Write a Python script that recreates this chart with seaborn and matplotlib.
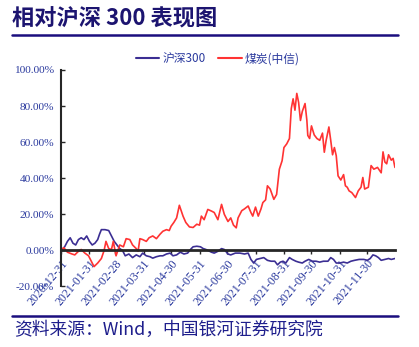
import pandas as pd
import seaborn as sns
import matplotlib.pyplot as plt
from matplotlib.lines import Line2D

# Days after 2020-12-31 and relative return (%)
base_date = "2020-12-31"
coal_days = [0, 3, 7, 12, 15, 19, 22, 26, 30, 33, 36, 40, 44, 47, 49, 52, 55, 57, 60, 64,
             68, 71, 75, 78, 82, 84, 86, 89, 93, 96, 100, 104, 108, 111, 115, 118, 120, 123,
             126, 129, 131, 133, 136, 140, 144, 148, 151, 153, 156, 160, 164, 167, 171, 175,
             178, 182, 185, 188, 191, 193, 197, 200, 204, 207, 209, 212, 215, 218, 220, 223,
             225, 228, 232, 235, 238, 241, 243, 246, 249, 251, 253, 255, 257, 259, 261, 263,
             266, 268, 269, 271, 273, 276, 279, 282, 285, 287, 289, 292, 294, 296, 298, 300,
             302, 305, 308, 310, 312, 314, 317, 321, 324, 327, 329, 331, 335, 338, 341, 345,
             349, 351, 353, 355, 357, 360, 362, 364]
coal_vals = [0, 1.5, -1, -2, -2.5, -0.5, 0.5, -1.5, -3, -6, -9, -7, -4.5, 0, 5, 1, 0.5, 5, -3, 3,
             2, 6.5, 6, 3, 1, -0.5, 6.5, 6, 5, 7, 8, 6.5, 9, 10.6, 11.5, 11, 13.4, 15.5,
             18, 25, 22, 19, 15.5, 13, 12.7, 14.5, 14, 19, 17, 22.7, 21.8, 21, 17, 25.5,
             20, 16, 18, 14, 12.5, 18, 22, 23, 24.6, 21, 19, 24, 19, 23, 26.5, 28,
             35.8, 34, 28.3, 31, 45, 49.7, 57, 59, 62, 78.6, 84, 77.7, 87, 82, 72, 77,
             81.4, 72, 63.7, 62, 69, 64, 62, 61, 65, 54.4, 61, 68.4, 61, 53, 57, 52.5,
             41.3, 39, 42, 35.8, 35, 33, 32, 29.3, 33, 35, 40.4, 34, 35, 47, 45, 46,
             43, 54.6, 49, 48, 53, 50, 51, 46]

hs300_days = [0, 4, 7, 10, 13, 16, 19, 22, 25, 28, 31, 34, 37, 40, 42, 44, 48, 52, 55, 58,
              61, 64, 67, 70, 74, 78, 82, 86, 89, 93, 97, 100, 104, 108, 111, 115, 119, 122,
              126, 130, 134, 138, 142, 144, 148, 152, 155, 158, 160, 164, 167, 171, 175, 178,
              182, 185, 190, 195, 200, 204, 207, 210, 213, 217, 221, 225, 229, 233, 236, 239,
              242, 245, 249, 252, 256, 259, 263, 266, 270, 274, 278, 282, 286, 291, 294, 297,
              300, 304, 308, 312, 316, 320, 325, 330, 334, 337, 340, 343, 346, 349, 353, 357,
              360, 364]
hs300_vals = [0, 2, 5, 7, 4, 3, 6, 7, 6, 8, 5, 3, 4, 6, 9, 11.5, 11.5, 11, 8, 5,
              3, 1, 0, -3, -2, -4, -2.5, -3.5, -1.5, -3, -3.5, -4.3, -3.5, -3, -3, -2, -1.5, -3,
              -2.5, -1, -2, -1.5, 1, 2, 2.3, 2, 1, 0.5, 0, -1, -1.5, -0.5, 1, 0.5,
              -2, -2.5, -1.5, -1.5, -2, -1.5, -5, -7, -5, -4.5, -4, -5.5, -6, -6, -8, -6.5,
              -6, -7, -4, -5, -6, -6.5, -7, -6, -5, -6, -6, -6.5, -6, -6, -4, -5,
              -7, -7, -6.5, -7, -6, -5.5, -5, -5, -5.5, -4.5, -2.5, -3, -4, -5.5, -5, -4.5,
              -5, -4.5]

tick_dates = ["2020-12-31", "2021-01-31", "2021-02-28", "2021-03-31", "2021-04-30",
              "2021-05-31", "2021-06-30", "2021-07-31", "2021-08-31", "2021-09-30",
              "2021-10-31", "2021-11-30"]
y_ticks = [-20, 0, 20, 40, 60, 80, 100]

start = pd.Timestamp(base_date)
df = pd.concat([
    pd.DataFrame({"date": start + pd.to_timedelta(hs300_days, unit="D"),
                  "value": hs300_vals, "series": "沪深300"}),
    pd.DataFrame({"date": start + pd.to_timedelta(coal_days, unit="D"),
                  "value": coal_vals, "series": "煤炭(中信)"}),
])

sns.set_style("ticks")
plt.rcParams['font.family'] = ['Noto Sans CJK SC', 'DejaVu Sans']

navy = "#1C1470"
label_blue = "#2B3A9E"
colors = {"沪深300": "#3B2E93", "煤炭(中信)": "#FF3333"}

fig = plt.figure(figsize=(4.19, 3.47), dpi=100)
ax = fig.add_axes([0.1456, 0.1744, 0.797, 0.624])

sns.lineplot(data=df, x="date", y="value", hue="series", palette=colors,
             linewidth=1.2, legend=False, ax=ax)

ax.set_xlim(start, start + pd.Timedelta(days=364))
ax.set_ylim(-20, 100)
ax.set_xlabel("")
ax.set_ylabel("")

# x axis sits on the zero line, like the Excel original
ax.spines['bottom'].set_position(('data', 0))
ax.spines['bottom'].set_linewidth(2.0)
ax.spines['left'].set_linewidth(1.5)
ax.spines['top'].set_visible(False)
ax.spines['right'].set_visible(False)

ax.set_xticks(pd.to_datetime(tick_dates))
ax.set_xticklabels(tick_dates, rotation=50, ha='right', va='top',
                   rotation_mode='anchor', fontsize=8.6, color=label_blue,
                   family='Liberation Serif')
ax.set_yticks(y_ticks)
ax.set_yticklabels([f"{v:.2f}%" for v in y_ticks], fontsize=8.2, color=label_blue,
                   family='Liberation Serif')
ax.tick_params(axis='x', direction='out', length=3, width=1, pad=2)
ax.tick_params(axis='y', direction='in', length=3, width=1, pad=5)

handles = [Line2D([], [], color=colors[k], lw=1.5) for k in colors]
fig.legend(handles, list(colors), loc='center', bbox_to_anchor=(0.52, 0.83), ncol=2,
           frameon=False, fontsize=8.5, handlelength=2.0, handletextpad=0.3,
           columnspacing=1.0, labelcolor=label_blue)

# title, rules and source line
fig.text(12 / 419, 1 - 19 / 347, "相对沪深 300 表现图", fontsize=16, fontweight='bold',
         color=navy, ha='left', va='center')
fig.add_artist(Line2D([12 / 419, 398 / 419], [1 - 35 / 347] * 2, color="#1B0E7E", lw=1.8))
fig.add_artist(Line2D([12 / 419, 398 / 419], [1 - 316 / 347] * 2, color="#1B0E7E", lw=1.8))
fig.text(14 / 419, 1 - 330 / 347, "资料来源：Wind，中国银河证券研究院", fontsize=12.8,
         color="#1E1E8C", ha='left', va='center', style='italic')

fig.savefig("out.png", dpi=100)
